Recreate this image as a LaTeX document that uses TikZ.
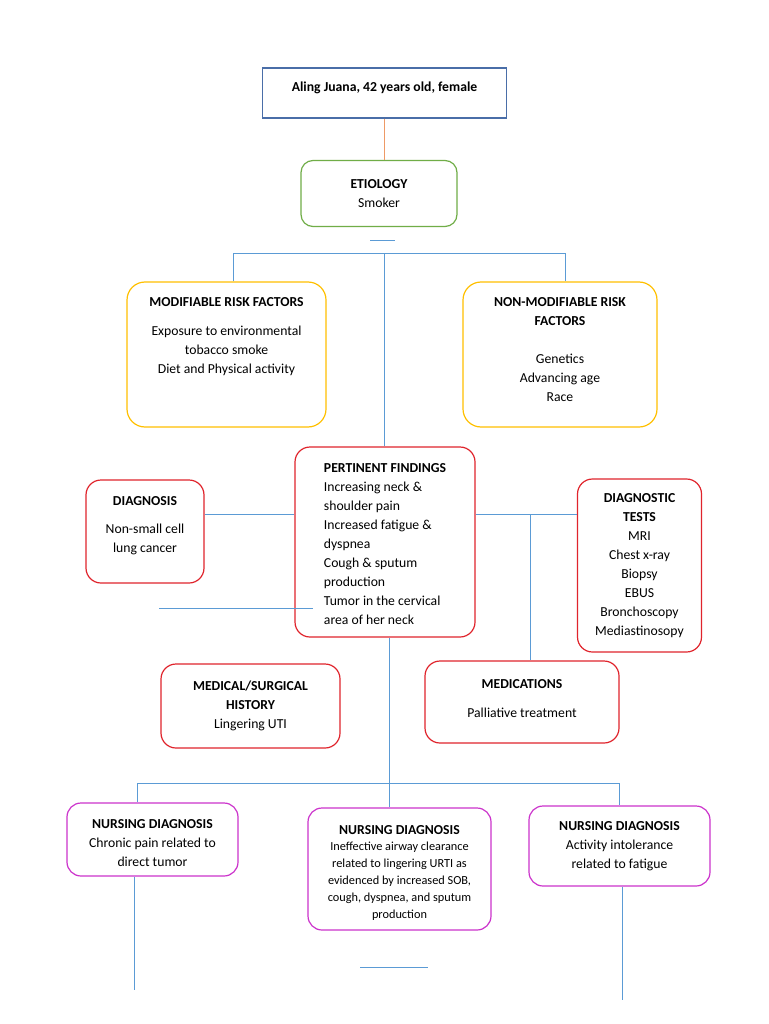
\documentclass[tikz,border=0pt]{standalone}
\usepackage{fontspec}
\setmainfont{Carlito}
\usetikzlibrary{positioning}
\definecolor{ageblue}{HTML}{4A6EA8}
\definecolor{etiogreen}{HTML}{70AD47}
\definecolor{riskyellow}{HTML}{FFC000}
\definecolor{findred}{HTML}{E0242C}
\definecolor{ndmagenta}{HTML}{CC33CC}
\definecolor{linkblue}{HTML}{5B9BD5}
\definecolor{linkorange}{HTML}{EE9A66}
\tikzset{box/.style={draw, line width=1.2pt, fill=white, align=center, inner sep=0pt,
                     font=\fontsize{13.7}{19}\selectfont}}
\begin{document}
\begin{tikzpicture}[x=1pt, y=-1pt,
  agebox/.style={box, draw=ageblue},
  etiobox/.style={box, draw=etiogreen, rounded corners=12pt},
  riskbox/.style={box, draw=riskyellow, rounded corners=18pt},
  redbox/.style={box, draw=findred, rounded corners=15pt},
  nursebox/.style={box, draw=ndmagenta, rounded corners=14pt},
  link/.style={draw=linkblue, line width=0.8pt},
  toplink/.style={draw=linkorange, line width=0.9pt},
]
  \fill[white] (0,0) rectangle (768,1024);
  \useasboundingbox (0,0) rectangle (768,1024);

  % ---- Patient and etiology ----
  \node[agebox, minimum width=244pt, minimum height=50pt, text depth=13pt] (age) at (384.5,93)
      {\textbf{Aling Juana, 42 years old, female}};
  \node[etiobox, minimum width=156pt, minimum height=66pt] (etio) at (379,193.5)
      {\textbf{ETIOLOGY}\\Smoker};

  % ---- Risk factors ----
  \node[riskbox, minimum width=199pt, minimum height=145pt] (modrisk) at (226.5,354.5)
      {\textbf{MODIFIABLE RISK FACTORS}\\[10pt]
       Exposure to environmental\\
       tobacco smoke\\
       Diet and Physical activity\\[18pt]\mbox{}};
  \node[riskbox, minimum width=194pt, minimum height=145pt] (nonmod) at (560,354.5)
      {\textbf{NON-MODIFIABLE RISK}\\
       \textbf{FACTORS}\\[19pt]
       Genetics\\
       Advancing age\\
       Race\\[-9pt]\mbox{}};

  % ---- Findings row ----
  \node[redbox, minimum width=180pt, minimum height=190pt, align=left] (findings) at (385,542)
      {\textbf{PERTINENT FINDINGS}\\
       Increasing neck \&\\
       shoulder pain\\
       Increased fatigue \&\\
       dyspnea\\
       Cough \& sputum\\
       production\\
       Tumor in the cervical\\
       area of her neck\\[-24pt]\mbox{}};
  \node[redbox, minimum width=118pt, minimum height=103pt] (diag) at (145,531.5)
      {\textbf{DIAGNOSIS}\\[9pt]
       Non-small cell\\
       lung cancer\\[-5pt]\mbox{}};
  \node[redbox, minimum width=124pt, minimum height=173pt] (tests) at (639.5,565.5)
      {\textbf{DIAGNOSTIC}\\
       \textbf{TESTS}\\
       MRI\\
       Chest x-ray\\
       Biopsy\\
       EBUS\\
       Bronchoscopy\\
       Mediastinosopy};
  \node[redbox, minimum width=179pt, minimum height=84pt] (history) at (250.5,706)
      {\textbf{MEDICAL/SURGICAL}\\
       \textbf{HISTORY}\\
       Lingering UTI};
  \node[redbox, minimum width=194pt, minimum height=82pt] (meds) at (522,702)
      {\textbf{MEDICATIONS}\\[10pt]
       Palliative treatment\\[-12pt]\mbox{}};

  % ---- Nursing diagnoses ----
  \node[nursebox, minimum width=171pt, minimum height=73pt] (nd1) at (152.5,839.5)
      {\textbf{NURSING DIAGNOSIS}\\
       Chronic pain related to\\
       direct tumor\\[-26pt]\mbox{}};
  \node[nursebox, minimum width=183pt, minimum height=122pt,
        font=\fontsize{12.3}{16.8}\selectfont] (nd2) at (399.5,869)
      {\fontsize{13.7}{16.8}\selectfont\textbf{NURSING DIAGNOSIS}\\
       Ineffective airway clearance\\
       related to lingering URTI as\\
       evidenced by increased SOB,\\
       cough, dyspnea, and sputum\\
       production\\[-22pt]\mbox{}};
  \node[nursebox, minimum width=181pt, minimum height=80pt] (nd3) at (619.5,846)
      {\textbf{NURSING DIAGNOSIS}\\
       Activity intolerance\\
       related to fatigue};

  % ---- Junction points ----
  \coordinate (bus) at (384,253);
  \coordinate (busl) at (233,253);
  \coordinate (busr) at (565,253);
  \coordinate (tj) at (530,514);
  \coordinate (nj) at (389,783);
  \coordinate (bl) at (137,783);
  \coordinate (br) at (619,783);
  \coordinate (tail1) at (134,990);
  \coordinate (tail3) at (622,1000);
  \coordinate (dash1a) at (370,240);
  \coordinate (dash1b) at (395,240);
  \coordinate (dash2a) at (159,608);
  \coordinate (dash2b) at (313,608);
  \coordinate (dash3a) at (360,967);
  \coordinate (dash3b) at (428,967);

  % ---- Upper connectors ----
  \draw[toplink] (age.south -| bus) -- (etio.north -| bus);
  \draw[link] (dash1a) -- (dash1b);
  \draw[link] (busl |- modrisk.north) -- (busl) -- (busr) -- (busr |- nonmod.north);
  \draw[link] (bus) -- (findings.north -| bus);

  % ---- Findings row connectors ----
  \draw[link] (diag.east |- tj) -- (findings.west |- tj);
  \draw[link] (findings.east |- tj) -- (tests.west |- tj);
  \draw[link] (tj) -- (tj |- meds.north);
  \draw[link] (dash2a) -- (dash2b);

  % ---- Nursing connectors ----
  \draw[link] (nj |- findings.south) -- (nj);
  \draw[link] (bl) -- (br);
  \draw[link] (bl) -- (bl |- nd1.north);
  \draw[link] (nj) -- (nj |- nd2.north);
  \draw[link] (br) -- (br |- nd3.north);
  \draw[link] (tail1 |- nd1.south) -- (tail1);
  \draw[link] (tail3 |- nd3.south) -- (tail3);
  \draw[link] (dash3a) -- (dash3b);
\end{tikzpicture}
\end{document}
